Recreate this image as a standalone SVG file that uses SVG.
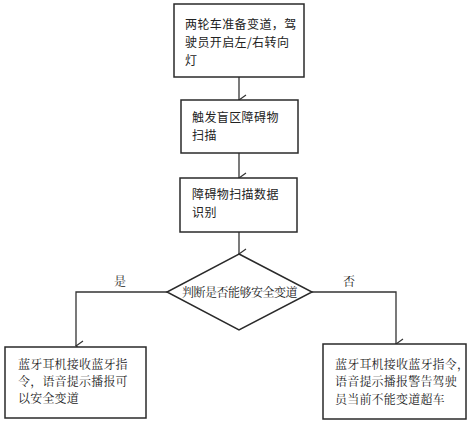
<svg xmlns="http://www.w3.org/2000/svg" width="474" height="424" viewBox="0 0 474 424">
<style>
.box{fill:#fff;stroke:#2a2a2a;stroke-width:1.5}
.ln{fill:none;stroke:#333;stroke-width:1.3}
.t{font-family:"Noto Sans CJK SC","Noto Sans",sans-serif;font-size:12px;fill:#222;letter-spacing:0.4px}
.s{font-family:"Noto Serif CJK SC","Noto Sans CJK SC",serif;font-size:12px;fill:#222;letter-spacing:0.2px}
.d{letter-spacing:-0.5px}
</style>
<defs>
<marker id="ah" markerWidth="12" markerHeight="12" refX="6" refY="10" orient="auto" markerUnits="userSpaceOnUse" viewBox="0 0 12 12">
<polyline points="1,3 6,10 11,3" fill="none" stroke="#333" stroke-width="1.2"/>
</marker>
</defs>
<rect width="474" height="424" fill="#fff"/>
<g id="connectors">
<line class="ln" x1="239" y1="77" x2="239" y2="100" marker-end="url(#ah)"/>
<line class="ln" x1="239" y1="153" x2="239" y2="178" marker-end="url(#ah)"/>
<line class="ln" x1="239" y1="232" x2="239" y2="254" marker-end="url(#ah)"/>
<polyline class="ln" points="167,292 76,292 76,346" marker-end="url(#ah)"/>
<polyline class="ln" points="312,292 396,292 396,344" marker-end="url(#ah)"/>
<text class="s" x="120" y="286" text-anchor="middle">是</text>
<text class="s" x="349" y="286" text-anchor="middle">否</text>
</g>
<g id="n1">
<rect class="box" x="174" y="4" width="130" height="73"/>
<text class="t" x="185" y="29">两轮车准备变道，驾</text>
<text class="t" x="185" y="47">驶员开启左/右转向</text>
<text class="t" x="185" y="65">灯</text>
</g>
<g id="n2">
<rect class="box" x="181" y="100" width="117" height="53"/>
<text class="t" x="192" y="122">触发盲区障碍物</text>
<text class="t" x="192" y="140">扫描</text>
</g>
<g id="n3">
<rect class="box" x="180" y="178" width="117" height="54"/>
<text class="t" x="192" y="199">障碍物扫描数据</text>
<text class="t" x="192" y="217">识别</text>
</g>
<g id="n4">
<polygon class="box" points="239,254 312,292 239,330 167,292"/>
<text class="s d" x="239.5" y="296.5" text-anchor="middle">判断是否能够安全变道</text>
</g>
<g id="n5">
<rect class="box" x="5" y="347" width="141" height="71"/>
<text class="s" x="18" y="369">蓝牙耳机接收蓝牙指</text>
<text class="s" x="18" y="386">令，语音提示播报可</text>
<text class="s" x="18" y="403">以安全变道</text>
</g>
<g id="n6">
<rect class="box" x="323" y="344" width="143" height="75"/>
<text class="s" x="335" y="369">蓝牙耳机接收蓝牙指令，</text>
<text class="s" x="335" y="386">语音提示播报警告驾驶</text>
<text class="s" x="335" y="404">员当前不能变道超车</text>
</g>
</svg>
